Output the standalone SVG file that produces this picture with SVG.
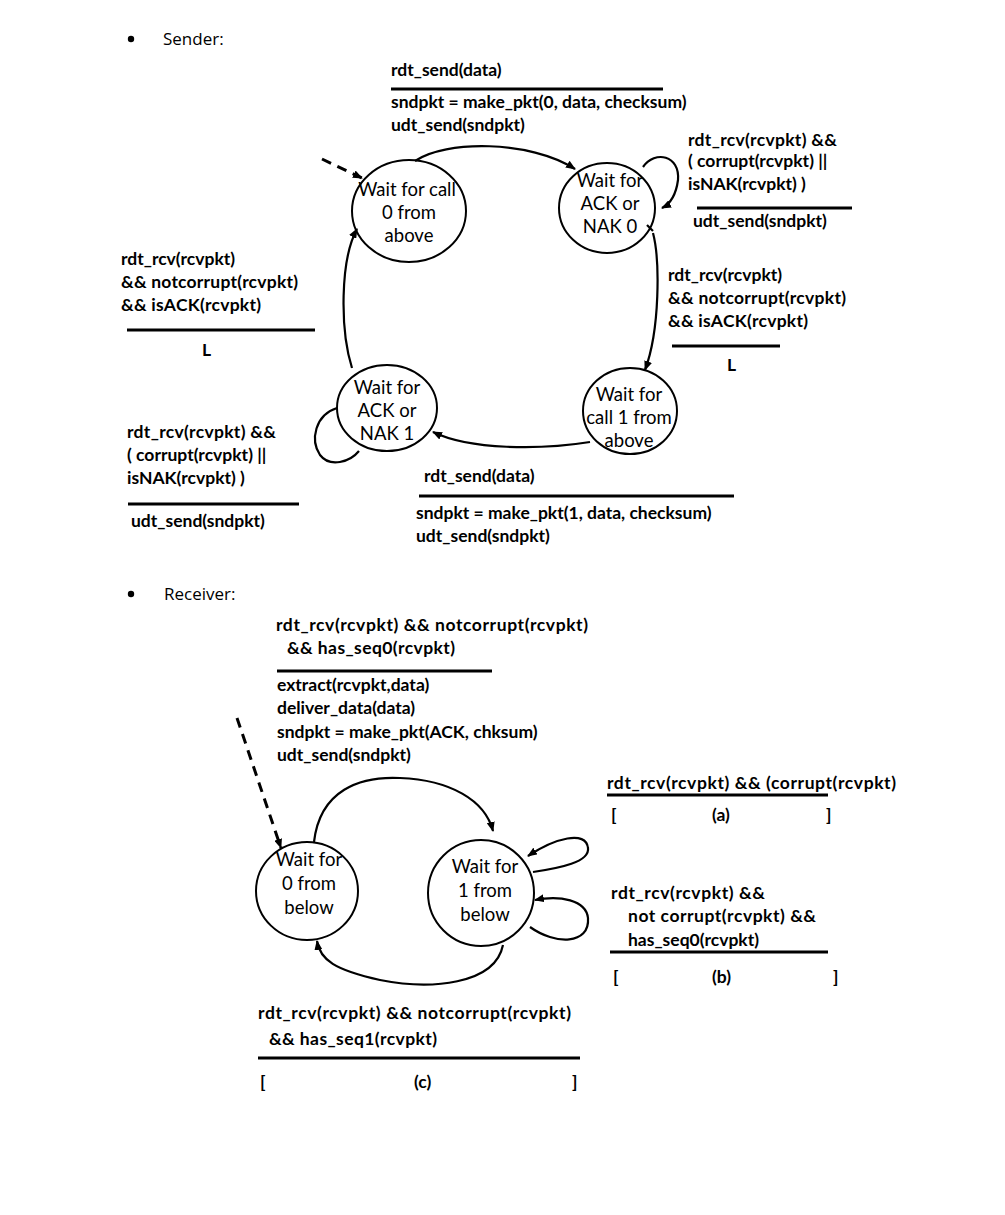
<svg xmlns="http://www.w3.org/2000/svg" width="1005" height="1215" viewBox="0 0 1005 1215">
<defs>
<style>
.lbl{font-family:Lato,"Liberation Sans",sans-serif;font-size:17.5px;font-weight:700;fill:#000}
.nd{font-family:Lato,"Liberation Sans",sans-serif;font-size:18.5px;font-weight:400;fill:#000;text-anchor:middle}
.hd{font-family:"Open Sans","Liberation Sans",sans-serif;font-size:17px;fill:#000}
.st{fill:#fff;stroke:#000;stroke-width:2}
.bar{stroke:#000;stroke-width:3}
.ed{fill:none;stroke:#000;stroke-width:2.2;marker-end:url(#ah)}
.lp{fill:none;stroke:#000;stroke-width:2.2}
.ds{fill:none;stroke:#000;stroke-width:3;stroke-dasharray:10,7;marker-end:url(#ah)}
</style>
<marker id="ah" markerWidth="10" markerHeight="8" refX="9" refY="4" orient="auto" markerUnits="userSpaceOnUse">
<path d="M0,0 L10,4 L0,8 Z" fill="#000"/>
</marker>
</defs>
<rect width="1005" height="1215" fill="#fff"/>

<!-- headings -->
<circle cx="131" cy="39" r="3.2" fill="#000"/>
<text class="hd" x="163" y="45">Sender:</text>
<circle cx="131" cy="594" r="3.2" fill="#000"/>
<text class="hd" x="164" y="600">Receiver:</text>

<!-- sender nodes -->
<g id="s_wait_call0">
<ellipse class="st" cx="409" cy="211" rx="57" ry="51"/>
<text class="nd" x="407" y="196">Wait for call</text>
<text class="nd" x="409" y="219">0 from</text>
<text class="nd" x="409" y="242">above</text>
</g>
<g id="s_wait_ack0">
<ellipse class="st" cx="607" cy="208" rx="48" ry="45"/>
<text class="nd" x="610" y="187">Wait for</text>
<text class="nd" x="610" y="210">ACK or</text>
<text class="nd" x="610" y="233">NAK 0</text>
</g>
<g id="s_wait_call1">
<ellipse class="st" cx="630" cy="411" rx="47" ry="43"/>
<text class="nd" x="629" y="401">Wait for</text>
<text class="nd" x="629" y="424">call 1 from</text>
<text class="nd" x="629" y="447">above</text>
</g>
<g id="s_wait_ack1">
<ellipse class="st" cx="387" cy="408" rx="50" ry="43"/>
<text class="nd" x="387" y="394">Wait for</text>
<text class="nd" x="387" y="417">ACK or</text>
<text class="nd" x="387" y="440">NAK 1</text>
</g>

<!-- receiver nodes -->
<g id="r_wait0">
<ellipse class="st" cx="307" cy="891" rx="51" ry="49"/>
<text class="nd" x="309" y="866">Wait for</text>
<text class="nd" x="309" y="890">0 from</text>
<text class="nd" x="309" y="914">below</text>
</g>
<g id="r_wait1">
<ellipse class="st" cx="481" cy="893" rx="53" ry="53"/>
<text class="nd" x="485" y="873">Wait for</text>
<text class="nd" x="485" y="897">1 from</text>
<text class="nd" x="485" y="921">below</text>
</g>

<!-- connectors -->
<g id="connectors">
<path class="ds" d="M322,159 L362,178"/>
<path class="ed" d="M415,161 C445,140 530,140 575,169"/>
<path class="ed" d="M643,167 C655,150 680,155 678,180 C676,195 670,204 662,208"/>
<path class="lp" d="M647,225 L653,231"/>
<path class="ed" d="M653,233 C660,260 660,330 645,370"/>
<path class="ed" d="M590,442 C540,450 470,450 433,432"/>
<path class="ed" d="M352,368 C340,330 340,260 357,229"/>
<path class="lp" d="M337,408 C315,415 310,440 320,455 C330,468 350,462 359,451"/>
<path class="ds" d="M237,718 L281,848"/>
<path class="ed" d="M314,842 C320,790 360,776 400,778 C450,780 485,800 493,831"/>
<path class="ed" d="M503,945 C495,985 430,990 380,980 C335,970 320,960 317,941"/>
<path class="ed" d="M533,872 C560,868 590,862 588,848 C586,830 555,838 528,856"/>
<path class="ed" d="M530,927 C555,945 590,945 588,918 C586,900 560,895 535,900"/>
</g>

<!-- sender labels -->
<g id="lbl_s_top">
<text class="lbl" x="391" y="76">rdt_send(data)</text>
<line class="bar" x1="391" y1="89" x2="663" y2="89"/>
<text class="lbl" x="391" y="108">sndpkt = make_pkt(0, data, checksum)</text>
<text class="lbl" x="391" y="131">udt_send(sndpkt)</text>
</g>
<g id="lbl_s_loop0">
<text class="lbl" x="688" y="146" textLength="149">rdt_rcv(rcvpkt) &amp;&amp;</text>
<text class="lbl" x="688" y="167">( corrupt(rcvpkt) ||</text>
<text class="lbl" x="688" y="190">isNAK(rcvpkt) )</text>
<line class="bar" x1="697" y1="208" x2="852" y2="208"/>
<text class="lbl" x="693" y="227">udt_send(sndpkt)</text>
</g>
<g id="lbl_s_right">
<text class="lbl" x="668" y="281">rdt_rcv(rcvpkt)</text>
<text class="lbl" x="668" y="304" textLength="178">&amp;&amp; notcorrupt(rcvpkt)</text>
<text class="lbl" x="668" y="327" textLength="140">&amp;&amp; isACK(rcvpkt)</text>
<line class="bar" x1="672" y1="346" x2="780" y2="346"/>
<text class="lbl" x="727" y="371">L</text>
</g>
<g id="lbl_s_left">
<text class="lbl" x="121" y="265">rdt_rcv(rcvpkt)</text>
<text class="lbl" x="121" y="288" textLength="177">&amp;&amp; notcorrupt(rcvpkt)</text>
<text class="lbl" x="121" y="311" textLength="140">&amp;&amp; isACK(rcvpkt)</text>
<line class="bar" x1="127" y1="330" x2="315" y2="330"/>
<text class="lbl" x="202" y="356">L</text>
</g>
<g id="lbl_s_loop1">
<text class="lbl" x="127" y="438" textLength="149">rdt_rcv(rcvpkt) &amp;&amp;</text>
<text class="lbl" x="127" y="461">( corrupt(rcvpkt) ||</text>
<text class="lbl" x="127" y="484">isNAK(rcvpkt) )</text>
<line class="bar" x1="128" y1="504" x2="299" y2="504"/>
<text class="lbl" x="131" y="527">udt_send(sndpkt)</text>
</g>
<g id="lbl_s_bottom">
<text class="lbl" x="424" y="482">rdt_send(data)</text>
<line class="bar" x1="419" y1="496" x2="734" y2="496"/>
<text class="lbl" x="416" y="519">sndpkt = make_pkt(1, data, checksum)</text>
<text class="lbl" x="416" y="542">udt_send(sndpkt)</text>
</g>

<!-- receiver labels -->
<g id="lbl_r_top">
<text class="lbl" x="276" y="631" textLength="312">rdt_rcv(rcvpkt) &amp;&amp; notcorrupt(rcvpkt)</text>
<text class="lbl" x="287" y="654" textLength="168">&amp;&amp; has_seq0(rcvpkt)</text>
<line class="bar" x1="277" y1="671" x2="492" y2="671"/>
<text class="lbl" x="277" y="691">extract(rcvpkt,data)</text>
<text class="lbl" x="277" y="714">deliver_data(data)</text>
<text class="lbl" x="277" y="738">sndpkt = make_pkt(ACK, chksum)</text>
<text class="lbl" x="277" y="761">udt_send(sndpkt)</text>
</g>
<g id="lbl_r_a">
<text class="lbl" x="607" y="789" textLength="289">rdt_rcv(rcvpkt) &amp;&amp; (corrupt(rcvpkt)</text>
<line class="bar" x1="607" y1="795" x2="828" y2="795"/>
<text class="lbl" x="611" y="821">[</text>
<text class="lbl" x="712" y="821">(a)</text>
<text class="lbl" x="826" y="821">]</text>
</g>
<g id="lbl_r_b">
<text class="lbl" x="611" y="899" textLength="154">rdt_rcv(rcvpkt) &amp;&amp;</text>
<text class="lbl" x="628" y="922" textLength="188">not corrupt(rcvpkt) &amp;&amp;</text>
<text class="lbl" x="628" y="946">has_seq0(rcvpkt)</text>
<line class="bar" x1="610" y1="952" x2="828" y2="952"/>
<text class="lbl" x="613" y="983">[</text>
<text class="lbl" x="712" y="983">(b)</text>
<text class="lbl" x="833" y="983">]</text>
</g>
<g id="lbl_r_c">
<text class="lbl" x="258" y="1019" textLength="313">rdt_rcv(rcvpkt) &amp;&amp; notcorrupt(rcvpkt)</text>
<text class="lbl" x="269" y="1045" textLength="168">&amp;&amp; has_seq1(rcvpkt)</text>
<line class="bar" x1="258" y1="1058" x2="580" y2="1058"/>
<text class="lbl" x="260" y="1088">[</text>
<text class="lbl" x="414" y="1088">(c)</text>
<text class="lbl" x="572" y="1088">]</text>
</g>
</svg>
